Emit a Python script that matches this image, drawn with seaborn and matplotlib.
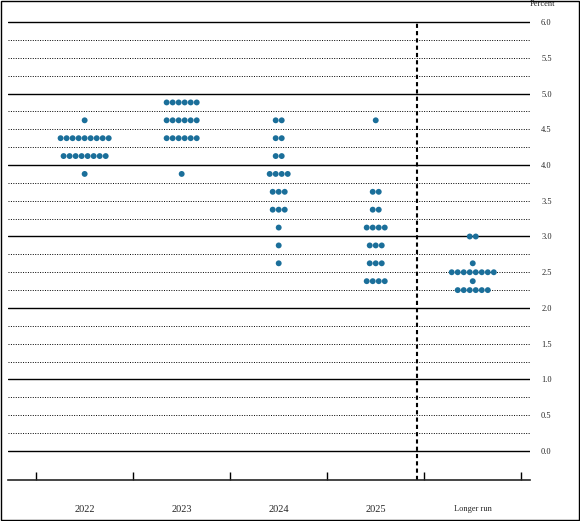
import numpy as np
import pandas as pd
import matplotlib.pyplot as plt
import seaborn as sns

# dot plot data: (rate, number of participants) per period
years = ['2022', '2023', '2024', '2025', 'Longer run']
rates_2022 = [4.625, 4.375, 4.125, 3.875]
counts_2022 = [1, 9, 8, 1]
rates_2023 = [4.875, 4.625, 4.375, 3.875]
counts_2023 = [6, 6, 6, 1]
rates_2024 = [4.625, 4.375, 4.125, 3.875, 3.625, 3.375, 3.125, 2.875, 2.625]
counts_2024 = [2, 2, 2, 4, 3, 3, 1, 1, 1]
rates_2025 = [4.625, 3.625, 3.375, 3.125, 2.875, 2.625, 2.375]
counts_2025 = [1, 2, 2, 4, 3, 3, 4]
rates_lr = [3.0, 2.625, 2.5, 2.375, 2.25]
counts_lr = [2, 1, 8, 1, 6]

all_rates = [rates_2022, rates_2023, rates_2024, rates_2025, rates_lr]
all_counts = [counts_2022, counts_2023, counts_2024, counts_2025, counts_lr]

step = 0.062
rows = []
for i, (rs, cs) in enumerate(zip(all_rates, all_counts)):
    for r, c in zip(rs, cs):
        for k in range(c):
            rows.append({'x': i + (k - (c - 1) / 2) * step, 'rate': r})
df = pd.DataFrame(rows)

sns.set_style('white')
plt.rcParams['font.family'] = ['Liberation Serif', 'DejaVu Serif']
fig = plt.figure(figsize=(5.8, 5.21), dpi=100)
ax = fig.add_axes([8 / 580, 41 / 521, 522 / 580, 470 / 521])

for y in np.arange(0, 6.01, 0.25):
    if abs(y - round(y)) < 1e-9:
        ax.axhline(y, color='black', lw=1.0, zorder=1)
    else:
        ax.axhline(y, color='black', lw=0.7, ls=(0, (1, 1.5)), zorder=1)

sns.scatterplot(data=df, x='x', y='rate', ax=ax, color='#1b6f9a', s=18,
                edgecolor='none', zorder=3, legend=False)

ax.plot([3.43, 3.43], [-0.406, 6.0], color='black', lw=1.5, ls=(0, (2, 1.5)), zorder=2)

ax.set_xlim(-0.79, 4.59)
ax.set_ylim(-0.406, 6.168)
for s in ['top', 'left', 'right']:
    ax.spines[s].set_visible(False)
ax.spines['bottom'].set_linewidth(1.2)
ax.set_xticks(range(5))
ax.set_xticklabels(years)
for lab in ax.get_xticklabels():
    if lab.get_text() == 'Longer run':
        lab.set_fontsize(6)
    else:
        lab.set_fontsize(7.5)
ax.set_xticks(np.arange(-0.5, 4.6, 1.0), minor=True)
ax.tick_params(axis='x', which='both', bottom=True)
ax.tick_params(axis='x', which='major', length=0, pad=18)
ax.tick_params(axis='x', which='minor', length=6, direction='in', width=1, color='black')
ax.yaxis.tick_right()
ax.set_yticks(np.arange(0, 6.01, 0.5))
ax.set_yticklabels([f'{v:.1f}' for v in np.arange(0, 6.01, 0.5)], fontsize=6)
ax.tick_params(axis='y', length=0, pad=8)
ax.set_xlabel('')
ax.set_ylabel('')
ax.text(1.0, 6.2, 'Percent', transform=ax.get_yaxis_transform(), fontsize=6,
        ha='left', va='bottom')

fig.patches.append(plt.Rectangle((0.002, 0.002), 0.996, 0.996, transform=fig.transFigure,
                                 fill=False, edgecolor='black', lw=1))
fig.savefig('out.png', dpi=100)
